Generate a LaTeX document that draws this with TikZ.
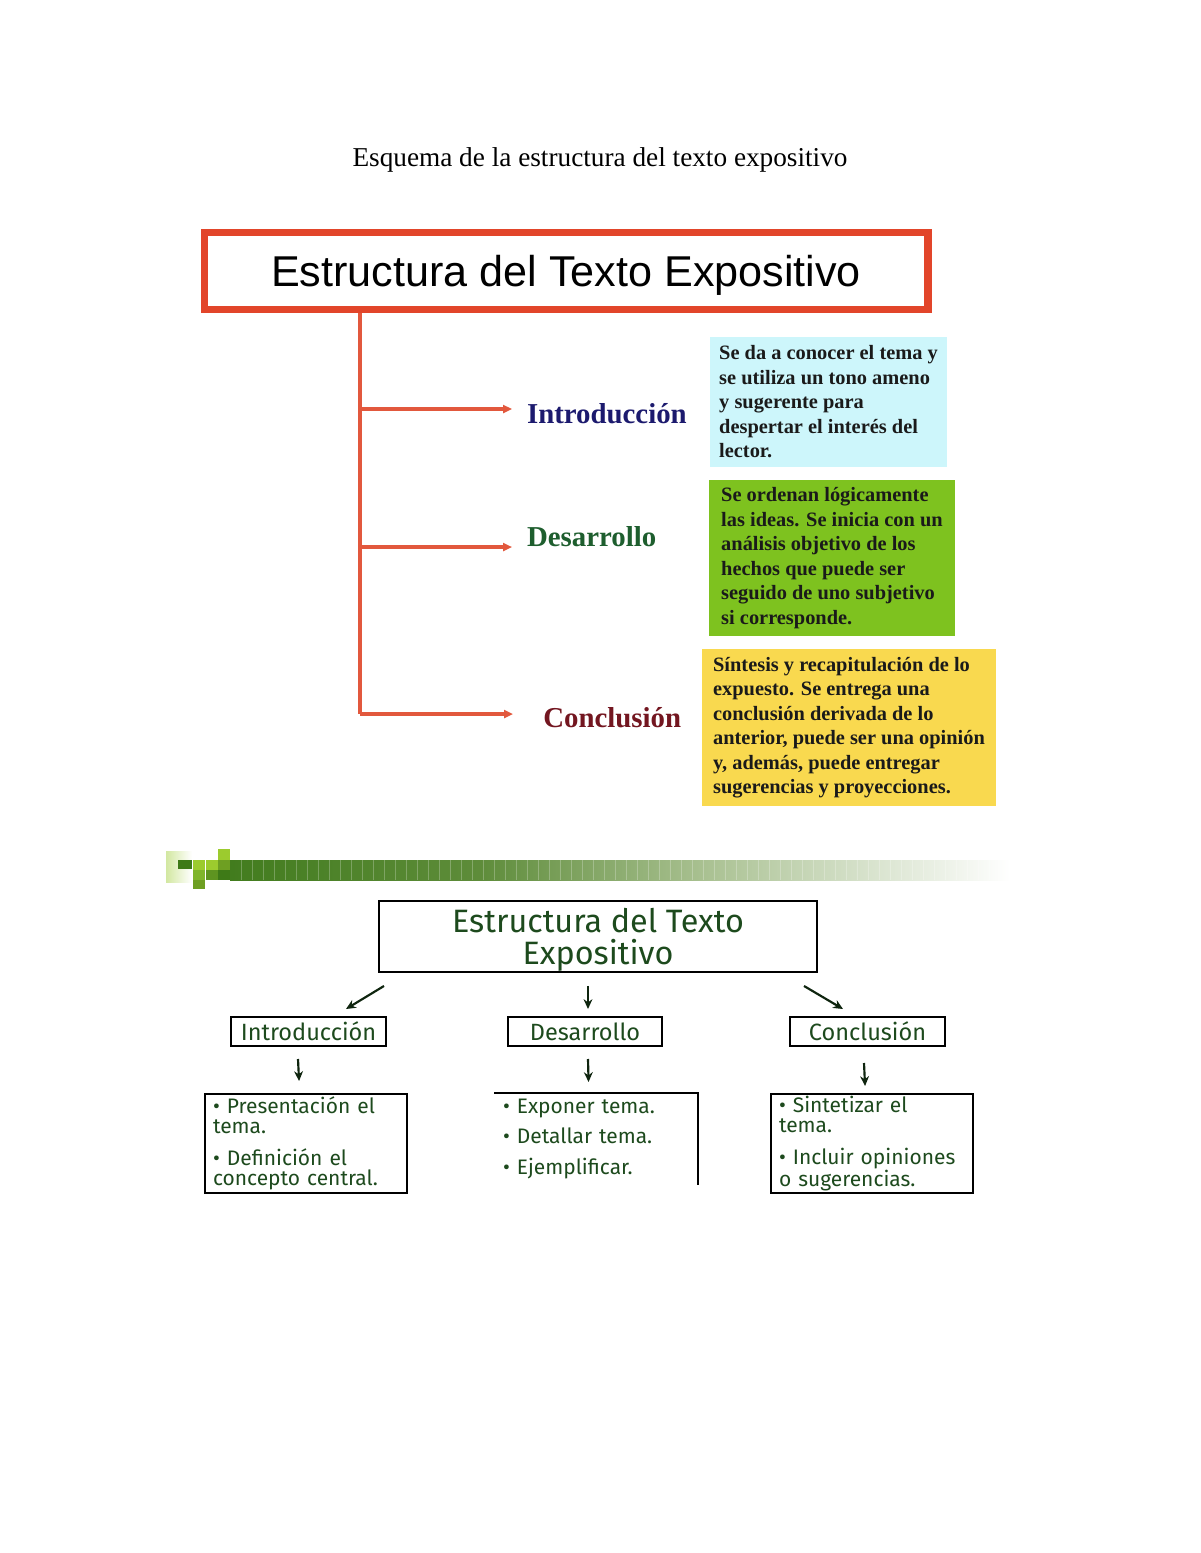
\documentclass[tikz,border=0pt]{standalone}
\usepackage{fontspec}
\setmainfont{Liberation Serif}
\newfontfamily\arialf{Liberation Sans}
\newfontfamily\firaf{Fira Sans}
\usetikzlibrary{arrows.meta,calc}
\definecolor{redc}{HTML}{E2452A}
\definecolor{redl}{HTML}{E2583D}
\definecolor{cyanbox}{HTML}{CDF6FB}
\definecolor{greenbox}{HTML}{7EC21F}
\definecolor{yellowbox}{HTML}{F9D94F}
\definecolor{navyt}{HTML}{1C1A6E}
\definecolor{dgreent}{HTML}{1E5E2E}
\definecolor{dredt}{HTML}{731620}
\definecolor{boxtext}{HTML}{1A1A1A}
\definecolor{bgreen}{HTML}{1D4A1D}
\definecolor{sq1}{HTML}{9CCB2E}
\definecolor{sq2}{HTML}{7FB52A}
\definecolor{sq3}{HTML}{6E9F22}
\definecolor{sq4}{HTML}{3E7A17}
\definecolor{sq5}{HTML}{5E9420}
\definecolor{st1}{HTML}{427C1E}
\definecolor{st2}{HTML}{5E8C3A}
\definecolor{st3}{HTML}{A8C090}
\tikzset{
  redline/.style={draw=redl, line width=1.7pt},
  redarrow/.style={redline, -{Triangle[length=4.5pt,width=4pt]}},
  toplabel/.style={font={\fontsize{14.7}{16}\selectfont\bfseries}, anchor=west, inner ysep=0pt},
  descbox/.style={align=left, inner sep=0pt, text=boxtext,
     font={\fontsize{10.4}{12.5}\selectfont\bfseries}},
  bbox/.style={draw=black, line width=1pt, inner sep=0pt},
  blabel/.style={bbox, text=bgreen, font={\firaf\fontsize{12}{14}\selectfont},
     minimum width=79pt, minimum height=14.8pt},
  blist/.style={bbox, text=bgreen, align=left, anchor=north west,
     font={\firaf\fontsize{10.7}{10.2}\selectfont}, text width=94.9pt, inner xsep=4.1pt,
     minimum height=50.5pt},
  garrow/.style={draw=bgreen!50!black, line width=1.1pt, -{Stealth[length=5pt,width=4.5pt]}}
}
\begin{document}
\begin{tikzpicture}[x=0.51pt,y=-0.51pt]
\useasboundingbox[fill=white] (0,0) rectangle (1200,1553);

% page title
\node[font=\fontsize{13.9}{16}\selectfont] (pagetitle) at (600,160) {Esquema de la estructura del texto expositivo};

% ---------- top diagram ----------
\node[draw=redc, line width=3.6pt, minimum width=369.2pt, minimum height=38.8pt, inner sep=0pt,
      text depth=0pt, font={\arialf\fontsize{22}{24}\selectfont}] (title) at (566,271) {Estructura del Texto Expositivo};

\coordinate (v1) at (360,409);
\coordinate (v2) at (360,547);
\coordinate (v3) at (360,714);

\node[toplabel, text=navyt, inner xsep=7.5pt] (intro) at (512,414) {Introducción};
\node[toplabel, text=dgreent, inner xsep=7.5pt] (desa) at (512,537) {Desarrollo};
\node[toplabel, text=dredt, inner xsep=15.3pt] (concl) at (513,718) {Conclusión};

\draw[redline] (title.south -| v3) -- (v3);
\draw[redarrow] (v1) -- (v1 -| intro.west);
\draw[redarrow] (v2) -- (v2 -| desa.west);
\draw[redarrow] (v3) -- (v3 -| concl.west);

\node[descbox, fill=cyanbox, minimum width=120.9pt, minimum height=66.3pt] (dintro) at (828.5,402)
 {Se da a conocer el tema y\\se utiliza un tono ameno\\y sugerente para\\despertar el interés del\\lector.};
\node[descbox, fill=greenbox, minimum width=125.5pt, minimum height=79.6pt] (ddesa) at (832,558)
 {Se ordenan lógicamente\\las ideas. Se inicia con un\\análisis objetivo de los\\hechos que puede ser\\seguido de uno subjetivo\\si corresponde.};
\node[descbox, fill=yellowbox, minimum width=149.9pt, minimum height=80.1pt] (dconcl) at (849,727.5)
 {Síntesis y recapitulación de lo\\expuesto. Se entrega una\\conclusión derivada de lo\\anterior, puede ser una opinión\\y, además, puede entregar\\sugerencias y proyecciones.};

% ---------- decorative bar ----------
\shade[left color=sq1!45, right color=white] (166,851) rectangle (192,882);
\fill[sq4] (178,860) rectangle (192,869);
\fill[sq1] (193,860) rectangle (205,870);
\fill[sq2] (193,870) rectangle (205,880);
\fill[sq3] (193,880) rectangle (205,889);
\fill[sq1] (206,860) rectangle (218,870);
\fill[sq5] (206,870) rectangle (218,880);
\fill[sq1] (218,849) rectangle (230,860);
\fill[sq3] (218,860) rectangle (230,870);
\fill[sq4] (218,870) rectangle (230,880);
\shade[left color=st1, right color=st2] (230,860) rectangle (480,880);
\shade[left color=st2, right color=st3] (480,860) rectangle (700,880);
\shade[left color=st3, right color=white] (700,860) rectangle (1010,880);
\foreach \x in {241,252,...,1000} \draw[white, opacity=0.25, line width=0.4pt] (\x,860) -- (\x,880);

% ---------- bottom diagram ----------
\node[bbox, minimum width=223.4pt, minimum height=36.2pt, text=bgreen, align=center, text depth=0pt,
      font={\firaf\fontsize{16.5}{16.3}\selectfont}] (big) at (598,936.5)
 {Estructura del Texto\\Expositivo};

\node[blabel] (bintro) at (308.5,1031.5) {Introducción};
\node[blabel] (bdesa) at (585,1031.5) {Desarrollo};
\node[blabel] (bconcl) at (867.5,1031.5) {Conclusión};

\draw[garrow] ($(big.south west)+(6,13)$) -- ($(bintro.north)+(37.5,-7)$);
\draw[garrow] ($(big.south)+(-10,13)$) -- ($(bdesa.north)+(3,-7)$);
\draw[garrow] ($(big.south east)+(-14,13)$) -- ($(bconcl.north)+(-24.5,-7)$);

\node[blist] (lintro) at (204,1093)
 {\mbox{• Presentación el}\\tema.\\[6.1pt]\mbox{• Definición el}\\\mbox{concepto central.}};
\node[blist, draw=none, minimum height=45.9pt, font={\firaf\fontsize{10.7}{15.6}\selectfont}] (ldesa) at (494,1093)
 {\mbox{• Exponer tema.}\\\mbox{• Detallar tema.}\\\mbox{• Ejemplificar.}};
\draw[line width=1pt] (ldesa.north west) -- (ldesa.north east) -- (ldesa.south east);
\node[blist] (lconcl) at (770,1093)
 {\mbox{• Sintetizar el}\\tema.\\[6.1pt]\mbox{• Incluir opiniones}\\\mbox{o sugerencias.}};

\draw[garrow] ($(bintro.south)+(-10.5,12)$) -- ($(lintro.north)+(-7,-12)$);
\draw[garrow] ($(bdesa.south)+(3,12)$) -- ($(ldesa.north)+(-7.5,-11)$);
\draw[garrow] ($(bconcl.south)+(-3.5,16)$) -- ($(lconcl.north)+(-7,-7)$);
\end{tikzpicture}
\end{document}
